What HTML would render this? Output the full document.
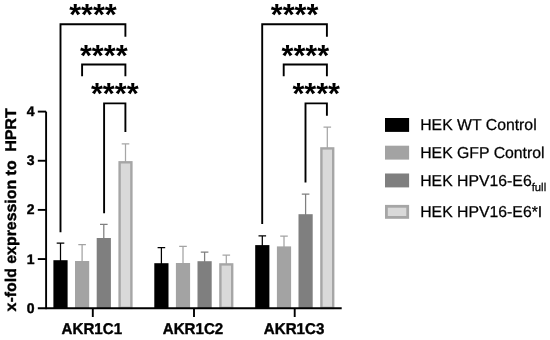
<!DOCTYPE html>
<html><head><meta charset="utf-8"><title>chart</title>
<style>
html,body{margin:0;padding:0;background:#fff;}
svg{display:block;}
text{font-family:"Liberation Sans",Arial,sans-serif;fill:#000;text-rendering:geometricPrecision;}
.a{font-weight:bold;}
.r{stroke:#000;stroke-width:0.25px;}
.b{font-weight:bold;stroke:#000;stroke-width:0.4px;stroke-linejoin:round;}
</style></head><body>
<svg width="550" height="340" viewBox="0 0 550 340">
<rect width="550" height="340" fill="#fff"/>

<path d="M60.50 261.20V243.10M56.70 243.10H64.30" stroke="#000000" stroke-width="1.25" fill="none"/>
<rect x="53.40" y="260.20" width="14.2" height="48.00" fill="#000000"/>
<path d="M82.10 262.00V244.60M78.30 244.60H85.90" stroke="#a3a3a3" stroke-width="1.25" fill="none"/>
<rect x="75.00" y="261.00" width="14.2" height="47.20" fill="#a3a3a3"/>
<path d="M103.80 239.00V224.30M100.00 224.30H107.60" stroke="#7f7f7f" stroke-width="1.25" fill="none"/>
<rect x="96.70" y="238.00" width="14.2" height="70.20" fill="#7f7f7f"/>
<path d="M125.50 162.10V143.90M121.70 143.90H129.30" stroke="#a6a6a6" stroke-width="1.25" fill="none"/>
<rect x="119.60" y="162.30" width="11.80" height="145.60" fill="#d9d9d9" stroke="#a6a6a6" stroke-width="2.4"/>
<path d="M161.40 264.20V247.60M157.60 247.60H165.20" stroke="#000000" stroke-width="1.25" fill="none"/>
<rect x="154.30" y="263.20" width="14.2" height="45.00" fill="#000000"/>
<path d="M183.00 264.00V246.40M179.20 246.40H186.80" stroke="#a3a3a3" stroke-width="1.25" fill="none"/>
<rect x="175.90" y="263.00" width="14.2" height="45.20" fill="#a3a3a3"/>
<path d="M204.60 262.20V252.10M200.80 252.10H208.40" stroke="#7f7f7f" stroke-width="1.25" fill="none"/>
<rect x="197.50" y="261.20" width="14.2" height="47.00" fill="#7f7f7f"/>
<path d="M226.30 264.20V255.20M222.50 255.20H230.10" stroke="#a6a6a6" stroke-width="1.25" fill="none"/>
<rect x="220.40" y="264.40" width="11.80" height="43.50" fill="#d9d9d9" stroke="#a6a6a6" stroke-width="2.4"/>
<path d="M262.30 246.10V235.80M258.50 235.80H266.10" stroke="#000000" stroke-width="1.25" fill="none"/>
<rect x="255.20" y="245.10" width="14.2" height="63.10" fill="#000000"/>
<path d="M284.00 247.40V236.10M280.20 236.10H287.80" stroke="#a3a3a3" stroke-width="1.25" fill="none"/>
<rect x="276.90" y="246.40" width="14.2" height="61.80" fill="#a3a3a3"/>
<path d="M305.60 215.20V194.00M301.80 194.00H309.40" stroke="#7f7f7f" stroke-width="1.25" fill="none"/>
<rect x="298.50" y="214.20" width="14.2" height="94.00" fill="#7f7f7f"/>
<path d="M327.30 148.20V127.20M323.50 127.20H331.10" stroke="#a6a6a6" stroke-width="1.25" fill="none"/>
<rect x="321.40" y="148.40" width="11.80" height="159.50" fill="#d9d9d9" stroke="#a6a6a6" stroke-width="2.4"/>
<path d="M46.1 309.15V111.60" stroke="#000" stroke-width="1.9" fill="none"/>
<path d="M37.8 308.2H341.7" stroke="#000" stroke-width="1.9" fill="none"/>
<path d="M37.8 259.05H46.1" stroke="#000" stroke-width="1.9"/>
<path d="M37.8 209.90H46.1" stroke="#000" stroke-width="1.9"/>
<path d="M37.8 160.75H46.1" stroke="#000" stroke-width="1.9"/>
<path d="M37.8 111.60H46.1" stroke="#000" stroke-width="1.9"/>
<text class="b" x="34.6" y="312.70" font-size="14" text-anchor="end">0</text>
<text class="b" x="34.6" y="263.55" font-size="14" text-anchor="end">1</text>
<text class="b" x="34.6" y="214.40" font-size="14" text-anchor="end">2</text>
<text class="b" x="34.6" y="165.25" font-size="14" text-anchor="end">3</text>
<text class="b" x="34.6" y="116.10" font-size="14" text-anchor="end">4</text>
<path d="M92.8 308.2V317.0" stroke="#000" stroke-width="1.9"/>
<text class="b" transform="translate(91.80 333.6) scale(0.97 1)" font-size="15.6" text-anchor="middle">AKR1C1</text>
<path d="M194.0 308.2V317.0" stroke="#000" stroke-width="1.9"/>
<text class="b" transform="translate(193.00 333.6) scale(0.97 1)" font-size="15.6" text-anchor="middle">AKR1C2</text>
<path d="M294.7 308.2V317.0" stroke="#000" stroke-width="1.9"/>
<text class="b" transform="translate(294.10 333.6) scale(0.97 1)" font-size="15.6" text-anchor="middle">AKR1C3</text>
<text class="b" transform="translate(16.4 311.4) rotate(-90) scale(1 0.975)" font-size="15.9" xml:space="preserve" style="white-space:pre">x-fold expression to  HPRT</text>
<path d="M60.5 232.3V24.3H125.4V36.7" stroke="#000" stroke-width="1.9" fill="none" stroke-linejoin="miter"/>
<text class="a" x="92.95" y="25.30" font-size="30.6" text-anchor="middle">****</text>
<path d="M82.1 76.3V64.5H125.4V76.3" stroke="#000" stroke-width="1.9" fill="none" stroke-linejoin="miter"/>
<text class="a" x="103.75" y="65.50" font-size="30.6" text-anchor="middle">****</text>
<path d="M104.1 213.3V103.4H125.4V132.0" stroke="#000" stroke-width="1.9" fill="none" stroke-linejoin="miter"/>
<text class="a" x="114.75" y="104.40" font-size="30.6" text-anchor="middle">****</text>
<path d="M262.2 223.9V24.3H326.9V36.7" stroke="#000" stroke-width="1.9" fill="none" stroke-linejoin="miter"/>
<text class="a" x="294.55" y="25.30" font-size="30.6" text-anchor="middle">****</text>
<path d="M283.7 76.3V64.5H326.9V76.3" stroke="#000" stroke-width="1.9" fill="none" stroke-linejoin="miter"/>
<text class="a" x="305.30" y="65.50" font-size="30.6" text-anchor="middle">****</text>
<path d="M305.5 182.6V103.4H326.9V115.7" stroke="#000" stroke-width="1.9" fill="none" stroke-linejoin="miter"/>
<text class="a" x="316.20" y="104.40" font-size="30.6" text-anchor="middle">****</text>
<rect x="385" y="118.0" width="24.1" height="13.9" fill="#000000"/>
<text x="420.2" y="130.1" class="r" font-size="15.8">HEK WT Control</text>
<rect x="385" y="145.7" width="24.1" height="13.9" fill="#a3a3a3"/>
<text x="420.2" y="157.8" class="r" font-size="15.8">HEK GFP Control</text>
<rect x="385" y="173.5" width="24.1" height="13.9" fill="#7f7f7f"/>
<text x="420.2" y="185.5" class="r" font-size="15.8">HEK HPV16-E6<tspan font-size="11.3" dy="5.5">full</tspan></text>
<rect x="386.4" y="206.3" width="21.3" height="11.1" fill="#d9d9d9" stroke="#a6a6a6" stroke-width="2.8"/>
<text x="420.2" y="217.0" class="r" font-size="15.8">HEK HPV16-E6*I</text>
</svg></body></html>
